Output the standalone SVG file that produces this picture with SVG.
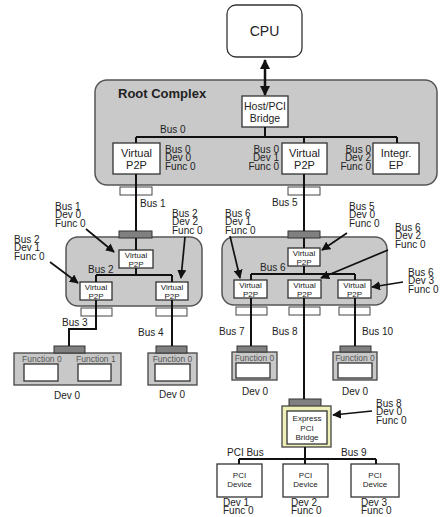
<svg xmlns="http://www.w3.org/2000/svg" width="445" height="517" viewBox="0 0 445 517">
<defs>
<marker id="ah" viewBox="0 0 10 10" refX="9" refY="5" markerWidth="9" markerHeight="9" markerUnits="userSpaceOnUse" orient="auto">
<path d="M0,0 L10,5 L0,10 z" fill="#111"/>
</marker>
<marker id="ahs" viewBox="0 0 10 10" refX="1" refY="5" markerWidth="10" markerHeight="10" markerUnits="userSpaceOnUse" orient="auto">
<path d="M10,0 L0,5 L10,10 z" fill="#111"/>
</marker>
<marker id="ahe" viewBox="0 0 10 10" refX="9" refY="5" markerWidth="10" markerHeight="10" markerUnits="userSpaceOnUse" orient="auto">
<path d="M0,0 L10,5 L0,10 z" fill="#111"/>
</marker>
</defs>
<style>
text{font-family:"Liberation Sans",Arial,sans-serif;fill:#222}
.big{font-size:11px}
.lab{font-size:10px}
.sm{font-size:8px}
.fn{font-size:8.5px;fill:#555}
.c{text-anchor:middle}
.e{text-anchor:end}
.box{fill:#fff;stroke:#333;stroke-width:1.3}
.grp{fill:#c9c9c9;stroke:#555;stroke-width:1.5}
.dev{fill:#c8c8c8;stroke:#444;stroke-width:1.3}
.dk{fill:#808080;stroke:#333;stroke-width:1}
.con{fill:#fff;stroke:#444;stroke-width:1}
.ln{fill:none;stroke:#111;stroke-width:2}
.ar{fill:none;stroke:#111;stroke-width:1.7;marker-end:url(#ah)}
</style>
<rect width="445" height="517" fill="#fff"/>

<g id="cpu">
<rect x="227" y="5" width="75" height="52" rx="9" class="box"/>
<text x="264.5" y="36" class="c" style="font-size:14px">CPU</text>
</g>

<g id="root-complex">
<rect x="95" y="80" width="342" height="105" rx="12" class="grp"/>
<text x="118" y="98" style="font-size:13px;font-weight:bold">Root Complex</text>
</g>

<g id="host-bridge">
<rect x="242" y="96" width="46" height="31" class="box"/>
<text x="265" y="110" class="c" style="font-size:10.5px">Host/PCI</text>
<text x="265" y="122" class="c" style="font-size:10.5px">Bridge</text>
</g>
<text x="160" y="133" class="lab">Bus 0</text>

<g id="rc-p2p-0">
<rect x="113" y="143" width="47" height="31" class="box"/>
<text x="136.5" y="157" class="c big">Virtual</text>
<text x="136.5" y="169" class="c big">P2P</text>
<text x="165" y="152.5" class="lab">Bus 0</text>
<text x="165" y="161" class="lab">Dev 0</text>
<text x="165" y="169.5" class="lab">Func 0</text>
</g>
<g id="rc-p2p-1">
<rect x="282" y="143" width="45" height="31" class="box"/>
<text x="304.5" y="157" class="c big">Virtual</text>
<text x="304.5" y="169" class="c big">P2P</text>
<text x="279" y="152.5" class="e lab">Bus 0</text>
<text x="279" y="161" class="e lab">Dev 1</text>
<text x="279" y="169.5" class="e lab">Func 0</text>
</g>
<g id="integr-ep">
<rect x="373" y="143" width="46" height="31" class="box"/>
<text x="396" y="157" class="c big">Integr.</text>
<text x="396" y="169" class="c big">EP</text>
<text x="371" y="152.5" class="e lab">Bus 0</text>
<text x="371" y="161" class="e lab">Dev 2</text>
<text x="371" y="169.5" class="e lab">Func 0</text>
</g>
<rect x="120" y="187" width="32" height="8" class="con"/>
<rect x="288" y="187" width="32" height="8" class="con"/>
<text x="140" y="207" class="lab">Bus 1</text>
<text x="272" y="206" class="lab">Bus 5</text>

<g id="switch-left">
<rect x="66" y="237" width="136" height="69" rx="12" class="grp"/>
<rect x="119" y="231" width="33" height="7" class="dk"/>
<rect x="119" y="250" width="34" height="18" class="box"/>
<text x="136" y="258" class="c sm">Virtual</text>
<text x="136" y="266.5" class="c sm">P2P</text>
<text x="88" y="272.5" class="lab">Bus 2</text>
<rect x="80" y="282" width="32" height="18" class="box"/>
<text x="96" y="290" class="c sm">Virtual</text>
<text x="96" y="298.5" class="c sm">P2P</text>
<rect x="156" y="282" width="32" height="18" class="box"/>
<text x="172" y="290" class="c sm">Virtual</text>
<text x="172" y="298.5" class="c sm">P2P</text>
<rect x="81" y="308" width="31" height="8" class="con"/>
<rect x="156" y="308" width="31" height="8" class="con"/>
<text x="55" y="209.5" class="lab">Bus 1</text>
<text x="55" y="218" class="lab">Dev 0</text>
<text x="55" y="226.5" class="lab">Func 0</text>
<text x="172" y="216.5" class="lab">Bus 2</text>
<text x="172" y="225" class="lab">Dev 2</text>
<text x="172" y="233.5" class="lab">Func 0</text>
<text x="14" y="242.5" class="lab">Bus 2</text>
<text x="14" y="251" class="lab">Dev 1</text>
<text x="14" y="259.5" class="lab">Func 0</text>
</g>

<g id="switch-right">
<rect x="222" y="237" width="165" height="68" rx="12" class="grp"/>
<rect x="288" y="231" width="32" height="7" class="dk"/>
<rect x="288" y="248" width="32" height="18" class="box"/>
<text x="304" y="256" class="c sm">Virtual</text>
<text x="304" y="264.5" class="c sm">P2P</text>
<text x="260" y="271" class="lab">Bus 6</text>
<rect x="234" y="280" width="33" height="18" class="box"/>
<text x="250.5" y="288" class="c sm">Virtual</text>
<text x="250.5" y="296.5" class="c sm">P2P</text>
<rect x="288" y="280" width="33" height="18" class="box"/>
<text x="304.5" y="288" class="c sm">Virtual</text>
<text x="304.5" y="296.5" class="c sm">P2P</text>
<rect x="338" y="280" width="33" height="18" class="box"/>
<text x="354.5" y="288" class="c sm">Virtual</text>
<text x="354.5" y="296.5" class="c sm">P2P</text>
<rect x="236" y="307" width="31" height="8" class="con"/>
<rect x="289" y="307" width="31" height="8" class="con"/>
<rect x="339" y="307" width="31" height="8" class="con"/>
<text x="225" y="216.5" class="lab">Bus 6</text>
<text x="225" y="225" class="lab">Dev 1</text>
<text x="225" y="233.5" class="lab">Func 0</text>
<text x="349" y="209.5" class="lab">Bus 5</text>
<text x="349" y="218" class="lab">Dev 0</text>
<text x="349" y="226.5" class="lab">Func 0</text>
<text x="395" y="230.5" class="lab">Bus 6</text>
<text x="395" y="239" class="lab">Dev 2</text>
<text x="395" y="247.5" class="lab">Func 0</text>
<text x="408" y="275.5" class="lab">Bus 6</text>
<text x="408" y="284" class="lab">Dev 3</text>
<text x="408" y="292.5" class="lab">Func 0</text>
</g>

<text x="62" y="326" class="lab">Bus 3</text>
<text x="138" y="336" class="lab">Bus 4</text>
<text x="219" y="335" class="lab">Bus 7</text>
<text x="272" y="335" class="lab">Bus 8</text>
<text x="362" y="335" class="lab">Bus 10</text>

<g id="dev-bus3">
<rect x="14" y="353" width="107" height="32" class="dev"/>
<rect x="54" y="346" width="31" height="7" class="dk"/>
<text x="22" y="362" class="fn">Function 0</text>
<text x="76" y="362" class="fn">Function 1</text>
<rect x="24" y="364" width="34" height="17" class="box"/>
<rect x="78" y="364" width="33" height="17" class="box"/>
<text x="67" y="399" class="c lab">Dev 0</text>
</g>
<g id="dev-bus4">
<rect x="148" y="353" width="49" height="32" class="dev"/>
<rect x="156" y="346" width="31" height="7" class="dk"/>
<text x="172.5" y="362" class="c fn">Function 0</text>
<rect x="155" y="364" width="35" height="17" class="box"/>
<text x="172" y="398" class="c lab">Dev 0</text>
</g>
<g id="dev-bus7">
<rect x="232" y="352" width="45" height="28" class="dev"/>
<rect x="237" y="346" width="30" height="6" class="dk"/>
<text x="254.5" y="361" class="c fn">Function 0</text>
<rect x="236" y="363" width="34" height="15" class="box"/>
<text x="255" y="395" class="c lab">Dev 0</text>
</g>
<g id="dev-bus10">
<rect x="333" y="352" width="44" height="28" class="dev"/>
<rect x="340" y="346" width="31" height="6" class="dk"/>
<text x="355" y="361" class="c fn">Function 0</text>
<rect x="338" y="363" width="34" height="15" class="box"/>
<text x="355" y="395" class="c lab">Dev 0</text>
</g>

<g id="express-pci-bridge">
<rect x="289" y="399" width="32" height="8" class="dk"/>
<rect x="282" y="406" width="49" height="41" fill="#eef0b8" stroke="#444" stroke-width="1.3"/>
<rect x="287" y="411" width="40" height="33" class="box"/>
<text x="307" y="421" class="c sm">Express</text>
<text x="307" y="431" class="c sm">PCI</text>
<text x="307" y="440" class="c sm">Bridge</text>
<text x="376" y="406.5" class="lab">Bus 8</text>
<text x="376" y="415" class="lab">Dev 0</text>
<text x="376" y="423.5" class="lab">Func 0</text>
</g>
<text x="227" y="456" class="lab">PCI Bus</text>
<text x="341" y="456" class="lab">Bus 9</text>

<g id="pci-dev-1">
<rect x="217" y="464" width="45" height="33" class="box"/>
<text x="239.5" y="478" class="c sm">PCI</text>
<text x="239.5" y="487" class="c sm">Device</text>
<text x="223" y="505.5" class="lab">Dev 1</text>
<text x="223" y="514" class="lab">Func 0</text>
</g>
<g id="pci-dev-2">
<rect x="283" y="464" width="45" height="33" class="box"/>
<text x="305.5" y="478" class="c sm">PCI</text>
<text x="305.5" y="487" class="c sm">Device</text>
<text x="291" y="505.5" class="lab">Dev 2</text>
<text x="291" y="514" class="lab">Func 0</text>
</g>
<g id="pci-dev-3">
<rect x="351" y="464" width="48" height="33" class="box"/>
<text x="375" y="478" class="c sm">PCI</text>
<text x="375" y="487" class="c sm">Device</text>
<text x="361" y="505.5" class="lab">Dev 3</text>
<text x="361" y="514" class="lab">Func 0</text>
</g>

<g id="connectors">
<line x1="265" y1="60" x2="265" y2="95" stroke="#111" stroke-width="2.5" marker-start="url(#ahs)" marker-end="url(#ahe)"/>
<path class="ln" d="M265 127 V137 M136 137 H397 M136 137 V143 M304 137 V143 M397 137 V143"/>
<path class="ln" d="M136 174 V231 M304 174 V231"/>
<path class="ln" d="M136 238 V250 M136 268 V275 M96 275 H172 M96 275 V282 M172 275 V282"/>
<path class="ln" d="M96 300 V329 H69 V346 M172 300 V346"/>
<path class="ln" d="M304 238 V248 M304 266 V274 M251 274 H355 M251 274 V280 M355 274 V280"/>
<path class="ln" d="M251 298 V346 M304 298 V399 M355 298 V346"/>
<path class="ln" d="M305 447 V459 M239 459 H376 M239 459 V464 M305 459 V464 M376 459 V464"/>
<line class="ar" x1="86" y1="229" x2="114" y2="252"/>
<line class="ar" x1="185" y1="237" x2="181" y2="278"/>
<line class="ar" x1="50" y1="262" x2="78" y2="283"/>
<line class="ar" x1="230" y1="236" x2="240" y2="278"/>
<line class="ar" x1="347" y1="233" x2="322" y2="250"/>
<line class="ar" x1="388" y1="250" x2="321" y2="278"/>
<line class="ar" x1="403" y1="282" x2="372" y2="287"/>
<line class="ar" x1="372" y1="411" x2="333" y2="415"/>
</g>
</svg>
